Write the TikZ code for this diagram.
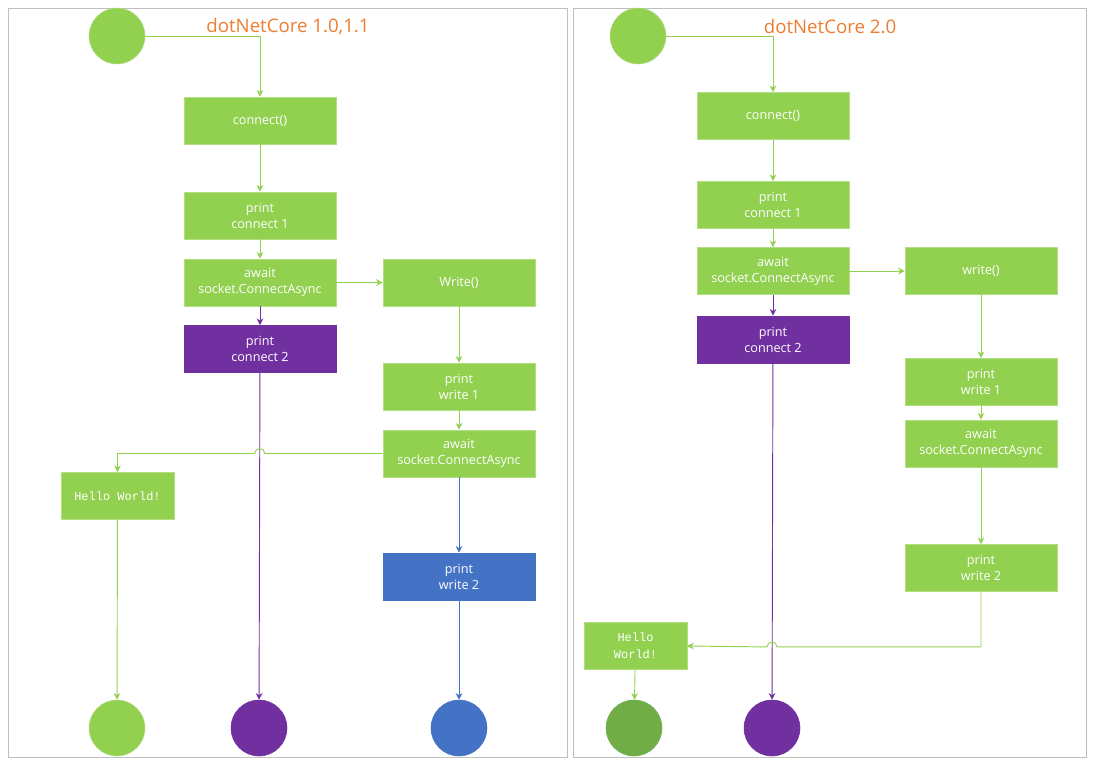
\documentclass[tikz,border=0pt]{standalone}
\usepackage{fontspec}
\setmainfont{Open Sans}
\newfontfamily\monof{Liberation Mono}
\usetikzlibrary{arrows.meta}
\definecolor{gr}{HTML}{92D050}
\definecolor{pu}{HTML}{7030A0}
\definecolor{bl}{HTML}{4472C4}
\definecolor{dg}{HTML}{70AD47}
\definecolor{orr}{HTML}{ED7D31}
\definecolor{pan}{HTML}{BFBFBF}
\begin{document}
\begin{tikzpicture}[x=0.75pt,y=-0.75pt,
 box/.style={fill=gr,draw=gr!70!white,text=white,minimum width=114pt,minimum height=35.5pt,align=center,font=\fontsize{9.5}{12}\selectfont,inner sep=1pt},
 circ/.style={circle,fill=gr,draw=gr!70!white,minimum size=42pt,inner sep=0pt},
 title/.style={text=orr,font=\fontsize{14}{16}\selectfont},
 ar/.style={draw=gr,-{Stealth[length=5pt,width=5pt]},line width=0.7pt},
 mono/.style={font=\monof\fontsize{9}{13}\selectfont}]
\useasboundingbox (0,0) rectangle (1096,768);
\node[draw=pan,minimum width=419.25pt,minimum height=561.75pt,inner sep=0] (p1) at (287.5,382.5) {};
\node[draw=pan,minimum width=384.75pt,minimum height=561.75pt,inner sep=0] (p2) at (829.5,382.5) {};
% left
\node[title] (t1) at (288,27) {dotNetCore 1.0,1.1};
\node[circ] (s1) at (117,36) {};
\node[box] (c1) at (260,120.5) {connect()};
\node[box] (pc1) at (260,215.5) {print\\connect 1};
\node[box] (aw1) at (260,282.5) {await\\socket.ConnectAsync};
\node[box,fill=pu,draw=pu] (pc2) at (260,349) {print\\connect 2};
\node[box] (wr) at (459,282.5) {Write()};
\node[box] (pw1) at (459,386.5) {print\\write 1};
\node[box] (aw2) at (459,453.5) {await\\socket.ConnectAsync};
\node[box,fill=bl,draw=bl] (pw2) at (459,576.5) {print\\write 2};
\node[box,mono,minimum width=85pt] (h1) at (117.5,496) {Hello World!};
\node[circ] (e1) at (117,728) {};
\node[circ,fill=pu,draw=pu] (e2) at (259,728) {};
\node[circ,fill=bl,draw=bl] (e3) at (459,728) {};
\draw[ar] (s1.east) -| (c1.north);
\draw[ar] (c1) -- (pc1);
\draw[ar] (pc1) -- (aw1);
\draw[ar,draw=pu] (aw1) -- (pc2);
\draw[ar] (aw1) -- (wr);
\draw[ar] (wr) -- (pw1);
\draw[ar] (pw1) -- (aw2);
\draw[ar,draw=bl] (aw2) -- (pw2);
\draw[ar,draw=bl] (pw2) -- (e3);
\draw[ar,draw=pu] (pc2) -- (e2);
\draw[ar] (aw2.west) -- ++(-118,0) arc[start angle=0,end angle=180,radius=3.75pt] -| (h1.north);
\draw[ar] (h1) -- (e1);
% right
\node[title] (t2) at (830,27) {dotNetCore 2.0};
\node[circ] (s2) at (638,36) {};
\node[box] (rc1) at (773,116) {connect()};
\node[box] (rpc1) at (773,205) {print\\connect 1};
\node[box] (raw1) at (773,271) {await\\socket.ConnectAsync};
\node[box,fill=pu,draw=pu] (rpc2) at (773,339.5) {print\\connect 2};
\node[box] (rwr) at (981,271) {write()};
\node[box] (rpw1) at (981,382) {print\\write 1};
\node[box] (raw2) at (981,443.5) {await\\socket.ConnectAsync};
\node[box] (rpw2) at (981,568) {print\\write 2};
\node[box,mono,minimum width=77pt,align=center] (h2) at (635.5,646) {Hello\\World!};
\node[circ,fill=dg,draw=dg] (re1) at (634,728) {};
\node[circ,fill=pu,draw=pu] (re2) at (772,728) {};
\draw[ar] (s2.east) -| (rc1.north);
\draw[ar] (rc1) -- (rpc1);
\draw[ar] (rpc1) -- (raw1);
\draw[ar,draw=pu] (raw1) -- (rpc2);
\draw[ar] (raw1) -- (rwr);
\draw[ar] (rwr) -- (rpw1);
\draw[ar] (rpw1) -- (raw2);
\draw[ar] (raw2) -- (rpw2);
\draw[ar,draw=pu] (rpc2) -- (re2);
\draw[ar] (rpw2.south) -- ++(0,55) -- ++(-204,0) arc[start angle=0,end angle=180,radius=3.75pt] -- (h2.east);
\draw[ar] (h2) -- (re1);
\end{tikzpicture}
\end{document}
